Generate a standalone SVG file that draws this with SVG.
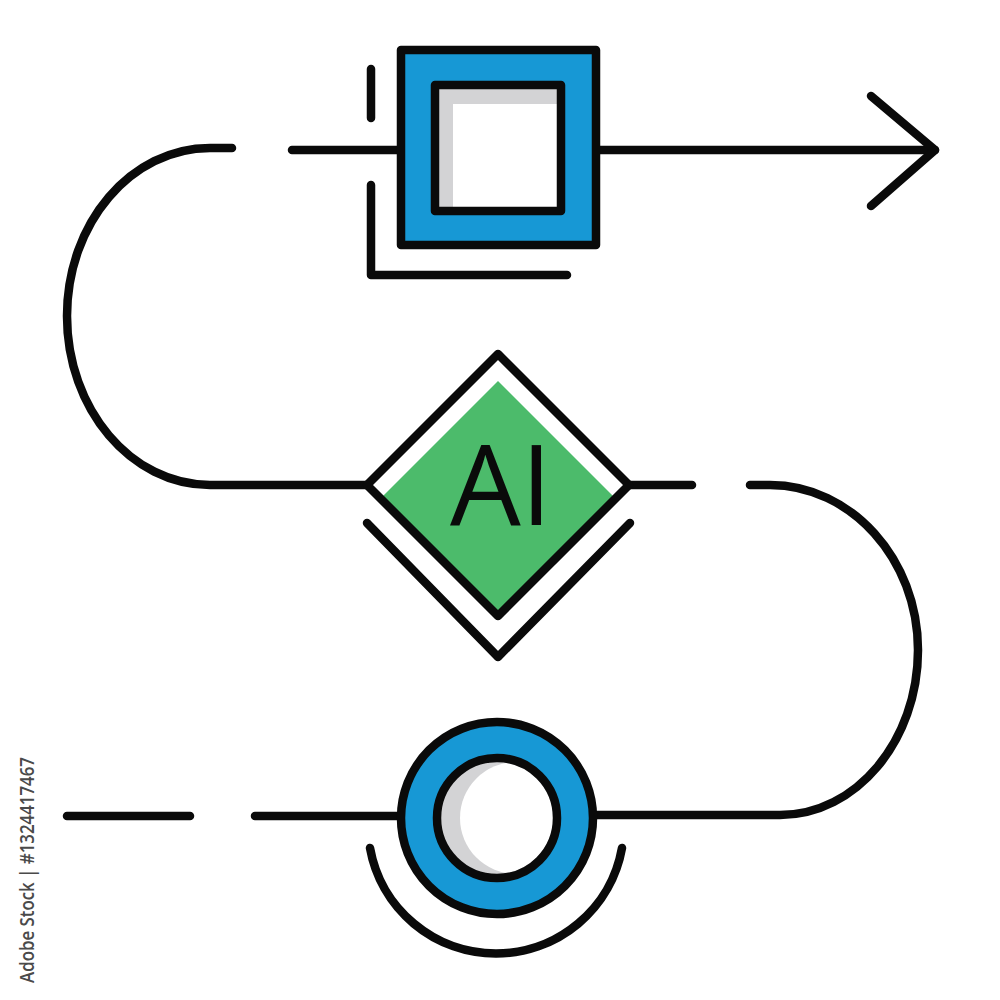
<svg xmlns="http://www.w3.org/2000/svg" width="1000" height="1000" viewBox="0 0 1000 1000">
  <defs>
    <style>
      .ln { fill: none; stroke: #0a0a0a; stroke-width: 8.5; stroke-linecap: round; stroke-linejoin: round; }
      .blue { fill: #1798d5; }
      .green { fill: #4cbb6b; }
      .gray { fill: #d3d3d5; }
      .white { fill: #ffffff; }
    </style>
    <clipPath id="hole">
      <circle cx="497" cy="818" r="56"/>
    </clipPath>
  </defs>
  <rect width="1000" height="1000" fill="#ffffff"/>

  <g id="connectors">
    <path class="ln" d="M232,148 H210 C131,148 67,223 67,316 C67,409 131,485 210,485 H367"/>
    <line class="ln" x1="629" y1="485" x2="692" y2="485"/>
    <path class="ln" d="M750,485 H770 C851,485 918,559 918,650 C918,741 856,815 780,815 H593"/>
    <line class="ln" x1="67" y1="816" x2="190" y2="816"/>
    <line class="ln" x1="255" y1="816" x2="401" y2="816"/>
    <line class="ln" x1="292" y1="150" x2="401" y2="150"/>
    <line class="ln" x1="596" y1="150" x2="935" y2="150"/>
    <polyline class="ln" points="871,96 935,150 871,206"/>
  </g>

  <g id="node-square">
    <rect class="blue" x="401" y="50" width="195" height="195"/>
    <rect class="gray" x="435" y="85" width="126" height="126"/>
    <rect class="white" x="453" y="104" width="104" height="103"/>
    <rect class="ln" x="401" y="50" width="195" height="195"/>
    <rect class="ln" x="435" y="85" width="126" height="126"/>
    <line class="ln" x1="371" y1="69" x2="371" y2="118"/>
    <polyline class="ln" points="371,185 371,275 567,275"/>
  </g>

  <g id="node-diamond">
    <polygon class="white" points="498,354 367,485 498,616 629,485"/>
    <polygon class="green" points="498,381 380.5,498.5 498,616 615.5,498.5"/>
    <polygon class="ln" points="498,354 367,485 498,616 629,485"/>
    <polyline class="ln" points="367,523 498,657 630,523"/>
    <text x="501" y="525" text-anchor="middle" font-family="'Open Sans', 'Noto Sans', sans-serif" font-size="112" fill="#0a0a0a">AI</text>
  </g>

  <g id="node-circle">
    <circle class="blue" cx="497" cy="818" r="96"/>
    <circle class="gray" cx="497" cy="818" r="60"/>
    <circle class="white" cx="516" cy="818" r="56" clip-path="url(#hole)"/>
    <circle class="ln" cx="497" cy="818" r="96"/>
    <circle class="ln" cx="497" cy="818" r="60"/>
    <path class="ln" d="M370,848 A128,128 0 0 0 622,848"/>
  </g>

  <text transform="translate(34,983) rotate(-90)" font-family="'Open Sans', 'Noto Sans', sans-serif" font-size="19" font-weight="600" fill="#4a4a4a" textLength="226" lengthAdjust="spacingAndGlyphs">Adobe Stock | #1324417467</text>
</svg>
